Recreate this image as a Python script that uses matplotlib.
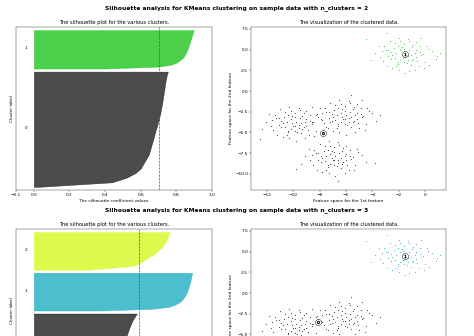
import numpy as np
import matplotlib
matplotlib.use('Agg')
import matplotlib.pyplot as plt
import matplotlib.cm as cm

# sample points, one list per blob
blob_a = [(-1.6, 4.1), (-2.8, 5.0), (-0.9, 5.6), (-2.1, 3.3), (-0.2, 4.5), (-1.9, 4.9), (-1.0, 3.7), (-3.4, 4.1), (-1.3, 6.3), (-2.6, 3.9),
          (-0.5, 3.0), (-1.8, 5.3), (0.5, 4.8), (-2.3, 5.8), (-1.3, 4.2), (-3.1, 5.4), (-0.7, 4.9), (-2.0, 2.6), (0.0, 3.5), (-3.8, 4.6),
          (-1.5, 4.6), (-2.5, 4.4), (-1.2, 6.0), (-0.7, 4.1), (-1.9, 3.7), (-2.9, 3.0), (-1.0, 5.3), (0.8, 3.9), (-2.2, 4.6), (-1.4, 3.4),
          (-3.3, 4.8), (-0.4, 5.4), (-1.7, 4.0), (-0.8, 2.6), (-2.7, 6.1), (0.2, 5.1), (-2.1, 3.5), (-1.1, 4.4), (-4.1, 3.7), (-1.6, 5.7),
          (-2.4, 5.2), (-0.3, 4.3), (-2.8, 4.2), (-1.5, 2.2), (-0.7, 5.9), (-2.2, 3.0), (0.1, 5.5), (-3.5, 5.5), (-1.2, 5.0), (-1.8, 4.4),
          (-0.9, 3.9), (-2.6, 4.7), (-0.4, 4.7), (-2.0, 6.4), (1.1, 4.6), (-3.2, 3.6), (-1.1, 3.2), (-2.3, 4.0), (-1.6, 5.1), (-0.6, 3.6),
          (-1.9, 6.0), (-3.0, 5.0), (-1.3, 3.8), (-4.5, 6.3), (-0.1, 2.8), (-2.5, 2.8), (-1.6, 3.5), (-0.8, 4.6), (-2.1, 5.4), (-0.3, 6.4),
          (0.9, 4.2), (-2.9, 7.0), (0.3, 3.2), (-1.2, 2.4)]
blob_b = [(-9.9, -4.2), (-11.1, -3.3), (-9.2, -2.7), (-10.4, -5.0), (-8.5, -3.8), (-10.2, -3.4), (-9.3, -4.6), (-11.7, -4.2), (-9.6, -2.0), (-10.9, -4.4),
          (-8.8, -5.3), (-10.1, -3.0), (-7.8, -3.5), (-10.6, -2.5), (-9.6, -4.1), (-11.4, -2.9), (-9.0, -3.4), (-10.3, -5.7), (-8.3, -4.8), (-12.1, -3.7),
          (-9.8, -3.7), (-10.8, -3.9), (-9.5, -2.3), (-9.0, -4.2), (-10.2, -4.6), (-11.2, -5.3), (-9.3, -3.0), (-7.5, -4.4), (-10.5, -3.7), (-9.7, -4.9),
          (-11.6, -3.5), (-8.7, -2.9), (-10.0, -4.2), (-9.1, -5.7), (-11.0, -2.2), (-8.1, -3.2), (-10.4, -4.8), (-9.4, -3.9), (-12.4, -4.6), (-9.9, -2.6),
          (-10.7, -3.1), (-8.6, -4.0), (-11.1, -4.1), (-9.8, -6.1), (-9.0, -2.4), (-10.5, -5.3), (-8.2, -2.8), (-11.8, -2.8), (-9.5, -3.3), (-10.1, -3.9),
          (-9.2, -4.4), (-10.9, -3.6), (-8.7, -3.6), (-10.3, -1.9), (-7.2, -3.7), (-11.5, -4.7), (-9.4, -5.1), (-10.6, -4.3), (-9.9, -3.2), (-8.9, -4.7),
          (-10.2, -2.4), (-11.3, -3.3), (-9.6, -4.5), (-12.5, -5.8), (-8.4, -5.5), (-10.8, -5.6), (-9.9, -4.8), (-9.1, -3.7), (-10.4, -2.9), (-8.6, -1.9)]
blob_c = [(-6.9, -8.4), (-8.1, -7.5), (-6.2, -6.9), (-7.4, -9.2), (-5.5, -8.0), (-7.2, -7.6), (-6.3, -8.8), (-8.7, -8.4), (-6.6, -6.2), (-7.9, -8.6),
          (-5.8, -9.5), (-7.1, -7.2), (-4.8, -7.7), (-7.6, -6.7), (-6.6, -8.3), (-8.4, -7.1), (-6.0, -7.6), (-7.3, -9.9), (-5.3, -9.0), (-9.1, -7.9),
          (-6.8, -7.9), (-7.8, -8.1), (-6.5, -6.5), (-6.0, -8.4), (-7.2, -8.8), (-8.2, -9.5), (-6.3, -7.2), (-4.5, -8.6), (-7.5, -7.9), (-6.7, -9.1),
          (-8.6, -7.7), (-5.7, -7.1), (-7.0, -8.4), (-6.1, -9.9), (-8.0, -6.4), (-5.1, -7.4), (-7.4, -9.0), (-6.4, -8.1), (-9.4, -8.8), (-6.9, -6.8),
          (-7.7, -7.3), (-5.6, -8.2), (-8.1, -8.3), (-6.8, -10.3), (-6.0, -6.6), (-7.5, -9.5), (-5.2, -7.0), (-8.8, -7.0), (-6.5, -7.5), (-7.1, -8.1),
          (-6.2, -8.6), (-7.9, -7.8), (-5.7, -7.8), (-7.3, -6.1), (-3.8, -8.7), (-8.5, -8.9), (-6.4, -9.3), (-7.6, -8.5), (-6.9, -7.4), (-5.9, -8.9),
          (-7.2, -6.6), (-8.3, -7.5), (-6.6, -8.7), (-9.8, -9.4), (-5.4, -9.6), (-7.8, -9.8), (-6.9, -9.0), (-6.1, -7.9), (-7.4, -7.1), (-6.6, -10.9)]
blob_d = [(-6.1, -3.4), (-7.3, -2.5), (-5.4, -1.9), (-6.6, -4.2), (-4.7, -3.0), (-6.4, -2.6), (-5.5, -3.8), (-7.9, -3.4), (-5.8, -1.2), (-7.1, -3.6),
          (-5.0, -4.5), (-6.3, -2.2), (-4.0, -2.7), (-6.8, -1.7), (-5.8, -3.3), (-7.6, -2.1), (-5.2, -2.6), (-6.5, -4.9), (-4.5, -4.0), (-8.3, -2.9),
          (-6.0, -2.9), (-7.0, -3.1), (-5.7, -1.5), (-5.2, -3.4), (-6.4, -3.8), (-7.4, -4.5), (-5.5, -2.2), (-3.7, -3.6), (-6.7, -2.9), (-5.9, -4.1),
          (-7.8, -2.7), (-4.9, -2.1), (-6.2, -3.4), (-5.3, -4.9), (-7.2, -1.4), (-4.3, -2.4), (-6.6, -4.0), (-5.6, -3.1), (-8.6, -3.8), (-6.1, -1.8),
          (-6.9, -2.3), (-4.8, -3.2), (-7.3, -3.3), (-6.0, -5.3), (-5.2, -1.6), (-6.7, -4.5), (-4.4, -2.0), (-8.0, -2.0), (-5.7, -2.5), (-6.3, -3.1),
          (-5.4, -3.6), (-7.1, -2.8), (-4.9, -2.8), (-6.5, -1.1), (-3.4, -2.9), (-7.7, -3.9), (-5.6, -4.3), (-6.8, -3.5), (-6.1, -2.4), (-5.1, -3.9),
          (-6.4, -1.6), (-7.5, -2.5), (-5.8, -3.7), (-5.6, -0.5), (-4.6, -4.7), (-7.0, -4.8), (-6.1, -4.0), (-5.3, -2.9), (-6.6, -2.1), (-4.8, -1.1)]

blobs = [blob_a, blob_b, blob_c, blob_d]
# cluster label of each blob for k = 2 and k = 3
blob_labels = {2: [1, 0, 0, 0], 3: [1, 0, 2, 0]}
cluster_centers = {2: [(-7.76, -5.06), (-1.56, 4.44)],
                   3: [(-8.1, -3.5), (-1.56, 4.44), (-7.0, -8.1)]}

# sorted silhouette values per cluster
sil_values = {
    2: [[0.02, 0.44, 0.52, 0.57, 0.60, 0.615, 0.63, 0.645, 0.653, 0.66, 0.668, 0.675, 0.682,
         0.69, 0.697, 0.704, 0.71, 0.715, 0.72, 0.724, 0.728, 0.732, 0.736, 0.74, 0.745, 0.752],
        [0.40, 0.70, 0.77, 0.80, 0.815, 0.83, 0.84, 0.847, 0.853, 0.858, 0.863, 0.867, 0.87,
         0.874, 0.877, 0.88, 0.884, 0.887, 0.89, 0.894, 0.898]],
    3: [[0.05, 0.34, 0.40, 0.44, 0.465, 0.485, 0.50, 0.52, 0.535, 0.552, 0.578],
        [0.38, 0.68, 0.76, 0.79, 0.81, 0.825, 0.835, 0.843, 0.85, 0.855, 0.86, 0.864, 0.868,
         0.871, 0.874, 0.877, 0.88, 0.882, 0.884, 0.886, 0.888],
        [0.30, 0.56, 0.60, 0.635, 0.67, 0.695, 0.72, 0.735, 0.745, 0.755, 0.762]],
}
cluster_sizes = {2: [375, 125], 3: [250, 125, 125]}
silhouette_avg = {2: 0.705, 3: 0.588}
n_samples = 500

W, H = 474, 336
DPI = W / 15.3
fig = plt.figure(figsize=(15.3, H / DPI), dpi=DPI)


def px_rect(left, top, right, bottom):
    return [left / W, 1 - bottom / H, (right - left) / W, (bottom - top) / H]


for off, n_clusters in [(0, 2), (202, 3)]:
    ax1 = fig.add_axes(px_rect(16, 27 + off, 212, 190 + off))
    ax2 = fig.add_axes(px_rect(251, 27 + off, 446, 190 + off))

    # silhouette plot
    ax1.set_xlim([-0.1, 1])
    ax1.set_ylim([0, n_samples + (n_clusters + 1) * 10])
    y_lower = 10
    for i, vals in enumerate(sil_values[n_clusters]):
        size_cluster_i = cluster_sizes[n_clusters][i]
        y_upper = y_lower + size_cluster_i
        ys = np.linspace(y_lower, y_upper, len(vals))
        color = cm.nipy_spectral(float(i) / n_clusters)
        ax1.fill_betweenx(ys, 0, vals, facecolor=color, edgecolor=color, alpha=0.7)
        ax1.text(-0.05, y_lower + 0.5 * size_cluster_i, str(i))
        y_lower = y_upper + 10

    ax1.set_title("The silhouette plot for the various clusters.")
    ax1.set_xlabel("The silhouette coefficient values")
    ax1.set_ylabel("Cluster label")
    ax1.axvline(x=silhouette_avg[n_clusters], color="red", linestyle="--")
    ax1.set_yticks([])
    ax1.set_xticks([-0.1, 0, 0.2, 0.4, 0.6, 0.8, 1])

    # scatter of the clustered points
    for pts, lab in zip(blobs, blob_labels[n_clusters]):
        X = np.array(pts)
        color = cm.nipy_spectral(float(lab) / n_clusters)
        ax2.scatter(X[:, 0], X[:, 1], marker='.', s=30, lw=0, alpha=0.7,
                    color=color, edgecolor='k')

    centers = np.array(cluster_centers[n_clusters])
    ax2.scatter(centers[:, 0], centers[:, 1], marker='o', c="white",
                alpha=1, s=200, edgecolor='k')
    for i, c in enumerate(centers):
        ax2.scatter(c[0], c[1], marker='$%d$' % i, alpha=1, s=50, edgecolor='k')

    ax2.set_xlim(-13.2, 1.57)
    ax2.set_ylim(-11.97, 7.74)
    ax2.set_title("The visualization of the clustered data.")
    ax2.set_xlabel("Feature space for the 1st feature")
    ax2.set_ylabel("Feature space for the 2nd feature")

    fig.text(237 / W, 1 - (8 + off) / H,
             "Silhouette analysis for KMeans clustering on sample data with n_clusters = %d" % n_clusters,
             ha='center', va='center', fontsize=14, fontweight='bold')

fig.savefig('out.png', dpi=DPI)
